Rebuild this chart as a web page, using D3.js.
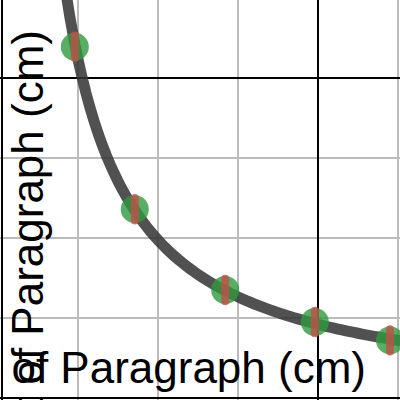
<!DOCTYPE html>
<html><head><meta charset="utf-8">
<script src="https://cdn.jsdelivr.net/npm/d3@7"></script>
<style>body{margin:0;background:#fff}svg{display:block}</style>
</head><body>
<svg id="chart" width="400" height="400"></svg>
<script>
// measured points (cm)
var widths = [0.96, 1.71, 2.84, 3.96, 4.9];
var heights = [4.39, 2.36, 1.35, 0.95, 0.72];
var errors = [0.14, 0.14, 0.14, 0.14, 0.14];
var minorTicks = [0, 1, 2, 3, 4, 5];
var majorTicks = [0, 4];

var svg = d3.select("#chart");
var x = d3.scaleLinear().domain([0, 5]).range([-2, 398]);
var y = d3.scaleLinear().domain([0, 5]).range([398, -2]);

// power-law fit y = a * x^b
var lx = widths.map(Math.log), ly = heights.map(Math.log);
var mx = d3.mean(lx), my = d3.mean(ly);
var b = d3.sum(lx, function(d, i) { return (d - mx) * (ly[i] - my); }) / d3.sum(lx, function(d) { return (d - mx) * (d - mx); });
var a = Math.exp(my - b * mx);

svg.append("g").selectAll("line").data(minorTicks).enter().append("line")
    .attr("x1", function(d) { return x(d); }).attr("x2", function(d) { return x(d); })
    .attr("y1", 0).attr("y2", 400).attr("stroke", "#bbb").attr("stroke-width", 2);
svg.append("g").selectAll("line").data(minorTicks).enter().append("line")
    .attr("y1", function(d) { return y(d); }).attr("y2", function(d) { return y(d); })
    .attr("x1", 0).attr("x2", 400).attr("stroke", "#bbb").attr("stroke-width", 2);
svg.append("g").selectAll("line").data(majorTicks).enter().append("line")
    .attr("x1", function(d) { return Math.max(2, x(d)); }).attr("x2", function(d) { return Math.max(2, x(d)); })
    .attr("y1", 0).attr("y2", 400).attr("stroke", "#000").attr("stroke-width", 2);
svg.append("g").selectAll("line").data(majorTicks).enter().append("line")
    .attr("y1", function(d) { return y(d); }).attr("y2", function(d) { return y(d); })
    .attr("x1", 0).attr("x2", 400).attr("stroke", "#000").attr("stroke-width", 2);

var curveX = d3.range(0.7, 5.3, 0.05);
svg.append("path").datum(curveX)
    .attr("d", d3.line().x(function(d) { return x(d); }).y(function(d) { return y(a * Math.pow(d, b)); }))
    .attr("fill", "none").attr("stroke", "#333").attr("stroke-opacity", 0.85).attr("stroke-width", 11);

svg.append("g").selectAll("circle").data(widths).enter().append("circle")
    .attr("cx", function(d) { return x(d); })
    .attr("cy", function(d, i) { return y(heights[i]); })
    .attr("r", 14).attr("fill", "#2e9a3e").attr("fill-opacity", 0.8);
svg.append("g").selectAll("line").data(widths).enter().append("line")
    .attr("x1", function(d) { return x(d); }).attr("x2", function(d) { return x(d); })
    .attr("y1", function(d, i) { return y(heights[i] + errors[i]); })
    .attr("y2", function(d, i) { return y(heights[i] - errors[i]); })
    .attr("stroke", "#c0504a").attr("stroke-opacity", 0.8).attr("stroke-width", 8).attr("stroke-linecap", "round");

svg.append("text").attr("x", 366).attr("y", 383).attr("text-anchor", "end")
    .attr("font-family", "Liberation Sans, Arial, sans-serif").attr("font-size", 44)
    .text("Width of Paragraph (cm)");
svg.append("text").attr("transform", "translate(43,30) rotate(-90)").attr("text-anchor", "end")
    .attr("font-family", "Liberation Sans, Arial, sans-serif").attr("font-size", 44)
    .text("Height of Paragraph (cm)");
</script>
</body></html>
